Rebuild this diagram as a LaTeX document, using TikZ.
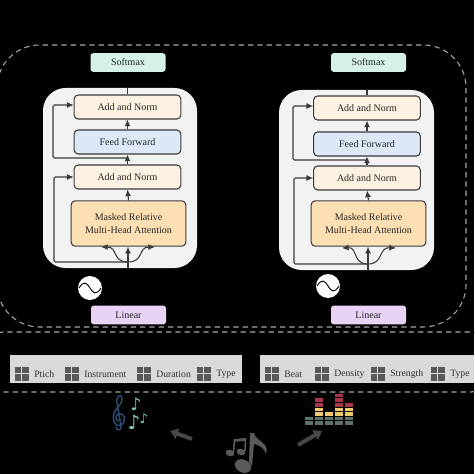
\documentclass[tikz,border=0pt]{standalone}
\usepackage{fontspec}
\setmainfont{Liberation Serif}
\newfontfamily\symfont{DejaVu Sans}
\usetikzlibrary{arrows.meta,positioning,calc}
\definecolor{normfill}{HTML}{FDF1E1}
\definecolor{feedfill}{HTML}{DCE8F6}
\definecolor{attnfill}{HTML}{FDDFB4}
\definecolor{softfill}{HTML}{D5F1E6}
\definecolor{linfill}{HTML}{E8D3F6}
\definecolor{panelfill}{HTML}{F2F2F2}
\definecolor{barfill}{HTML}{D9D9D9}
\definecolor{linecol}{HTML}{3A3A3A}
\definecolor{dashcol}{HTML}{A6A6A6}
\definecolor{iconcol}{HTML}{595959}
\definecolor{clefcol}{HTML}{2E4A70}
\definecolor{notecol}{HTML}{7FC8A9}
\definecolor{meterlow}{HTML}{5E7270}
\definecolor{metermid}{HTML}{EFCB6A}
\definecolor{meterhigh}{HTML}{A8354A}
\tikzset{
  blockbox/.style={draw=linecol, line width=0.8pt, rounded corners=3pt, align=center,
    inner sep=0pt, minimum width=#1, text=black!85},
  blockbox/.default=80pt,
  outbox/.style={rounded corners=2pt, inner sep=0pt, minimum width=56.25pt, minimum height=14pt, text=black!85},
  panel/.style={fill=panelfill, rounded corners=17pt},
  flow/.style={draw=linecol, line width=0.8pt, -{Latex[length=5pt,width=4.5pt]}},
  plainline/.style={draw=linecol, line width=0.8pt},
  dashframe/.style={draw=dashcol, line width=0.8pt, dashed, dash pattern=on 4pt off 3pt},
  feat/.style={inner sep=0pt, font=\fontsize{7.3pt}{8pt}\selectfont, text=black!80},
  bigarrow/.style={draw=iconcol!80!black, line width=3pt, -{Triangle[length=6pt,width=8pt]}},
  glyph/.style={inner sep=0pt, text=#1}
}
\begin{document}
\begin{tikzpicture}[x=0.75pt, y=-0.75pt, font=\fontsize{7.5pt}{10pt}\selectfont, >=Latex]
\fill[black] (0,0) rectangle (474,474);
\useasboundingbox (0,0) rectangle (474,474);

% Dashed frames
\draw[dashframe, rounded corners=32pt] (-3,45) rectangle (466,327);
\draw[dashframe, rounded corners=8pt] (-8,332) rectangle (482,392);

% Left decoder
\fill[panel] (43,88) rectangle (197,268);
\node[outbox, fill=softfill] (softL) at (128,62.5) {Softmax};
\node[blockbox, fill=normfill, minimum height=18pt] (normtopL) at (127.5,107) {Add and Norm};
\node[blockbox, fill=feedfill, minimum height=18pt] (feedL) at (127.5,142) {Feed Forward};
\node[blockbox, fill=normfill, minimum height=18pt] (normlowL) at (127.5,177) {Add and Norm};
\node[blockbox=86pt, fill=attnfill, minimum height=34pt] (attnL) at (128.5,223.5) {Masked Relative\\Multi-Head Attention};
\node[outbox, fill=linfill] (linL) at (128.5,315) {Linear};
\coordinate (tapL) at (128,158);
\coordinate (baseL) at (128,262);
\coordinate (inL) at (128,268);
\draw[plainline] (normtopL.north) -- (normtopL.north |- 0,88);
\draw[flow] (feedL.north) -- (normtopL.south);
\draw[flow] (normlowL.north) -- (feedL.south);
\draw[flow] (attnL.north) -- (normlowL.south);
\draw[flow, rounded corners=1pt] (tapL) -| (53,105) -- (normtopL.west |- 0,105);
\draw[flow, rounded corners=1pt] (baseL) -| (54,177) -- (normlowL.west);
\draw[flow] (inL) -- (attnL.south -| inL);
\draw[flow] (baseL) .. controls (112,262) and (118,247) .. (101,247);
\draw[flow] (baseL) .. controls (144,262) and (138,247) .. (155,247);

% Right decoder
\fill[panel] (279,90) rectangle (434,270);
\node[outbox, fill=softfill] (softR) at (368.5,62.5) {Softmax};
\node[blockbox, fill=normfill, minimum height=18pt] (normtopR) at (367,108) {Add and Norm};
\node[blockbox, fill=feedfill, minimum height=18pt] (feedR) at (367,144) {Feed Forward};
\node[blockbox, fill=normfill, minimum height=18pt] (normlowR) at (367,178) {Add and Norm};
\node[blockbox=86pt, fill=attnfill, minimum height=34pt] (attnR) at (368.5,223.5) {Masked Relative\\Multi-Head Attention};
\node[outbox, fill=linfill] (linR) at (368.5,315) {Linear};
\coordinate (tapR) at (368,160);
\coordinate (baseR) at (368,264);
\coordinate (inR) at (368,270);
\draw[plainline] (normtopR.north) -- (normtopR.north |- 0,90);
\draw[flow] (feedR.north) -- (normtopR.south);
\draw[flow] (normlowR.north) -- (feedR.south);
\draw[flow] (attnR.north) -- (normlowR.south);
\draw[flow, rounded corners=1pt] (tapR) -| (293,106) -- (normtopR.west |- 0,106);
\draw[flow, rounded corners=1pt] (baseR) -| (294,178) -- (normlowR.west);
\draw[flow] (inR) -- (attnR.south -| inR);
\draw[flow] (baseR) .. controls (352,264) and (358,247) .. (342,248);
\draw[flow] (baseR) .. controls (384,264) and (378,247) .. (396,248);

% Positional encoding
\foreach \cx/\cy in {90/288, 328/286} {
  \fill[white] (\cx,\cy) circle (9pt);
  \draw[black, line width=0.7pt] (\cx-11,\cy) .. controls (\cx-6,\cy-8) and (\cx-3,\cy-5) .. (\cx,\cy)
    .. controls (\cx+3,\cy+5) and (\cx+6,\cy+8) .. (\cx+11,\cy);
}

% Feature bars
\fill[barfill] (10,355) rectangle (242,383);
\fill[barfill] (260,355) rectangle (474,383);
\foreach \gx/\txt in {15/Ptich, 65/Instrument, 137/Duration, 197/Type, 265/Beat, 315/Density, 371/Strength, 431/Type} {
  \foreach \i in {0,1} \foreach \j in {0,1}
    \fill[iconcol] (\gx+\i*7.3,367+\j*7.3) rectangle ++(6.3,6.3);
  \node[feat, anchor=west] at (\gx+19,374) {\txt};
}

% Clef and notes
\draw[clefcol, line width=1.1pt] (120,420) .. controls (116,423) and (114,416) .. (118,414)
  .. controls (125,412) and (127,421) .. (121,425) .. controls (114,428) and (112,418) .. (114,413)
  .. controls (116,408) and (123,404) .. (122,398) .. controls (121,393) and (116,396) .. (117,403)
  -- (121,426) .. controls (122,431) and (116,431) .. (116,427);
\node[glyph=notecol, font=\symfont\fontsize{13pt}{13pt}\selectfont] (noteA) at (136,404) {♪};
\node[glyph=notecol, font=\symfont\fontsize{15pt}{15pt}\selectfont] (noteB) at (134,422) {♪};
\node[glyph=notecol, font=\symfont\fontsize{10pt}{10pt}\selectfont] (noteC) at (144,419) {♪};

% Big note, drawn as shapes
\fill[iconcol, rotate around={-25:(243,466)}] (243,466) ellipse [x radius=8.5, y radius=6.5];
\fill[iconcol] (249,462) -- (250,433) -- (254,433)
  .. controls (255,441) and (270,442) .. (266,454)
  .. controls (264,447) and (258,445) .. (254,444) -- (252,466) -- cycle;
\fill[iconcol, rotate around={-20:(230,453)}] (230,453) ellipse [x radius=4.5, y radius=3.2];
\fill[iconcol, rotate around={-20:(241,452)}] (241,452) ellipse [x radius=4.5, y radius=3.2];
\draw[iconcol, line width=1.2pt] (233.5,452) -- (234.5,440) -- (245.5,439) -- (245,451);
\draw[iconcol, line width=2pt] (234,440.5) -- (245.5,439.5);

\coordinate (barsin) at (322,431);
\coordinate (notesin) at (170,431);
\draw[bigarrow] (192,439) -- (notesin);
\draw[bigarrow] (298,445) -- (barsin);

% Level meter
\foreach \col/\n in {0/2, 1/6, 2/3, 3/7, 4/5} {
  \foreach \k in {1,...,\n} {
    \ifnum\k<3 \def\lvl{meterlow}\else\ifnum\k<5 \def\lvl{metermid}\else\def\lvl{meterhigh}\fi\fi
    \fill[\lvl] (305+\col*10,426-\k*4.6) rectangle ++(7.5,3.6);
  }
}
\end{tikzpicture}
\end{document}
